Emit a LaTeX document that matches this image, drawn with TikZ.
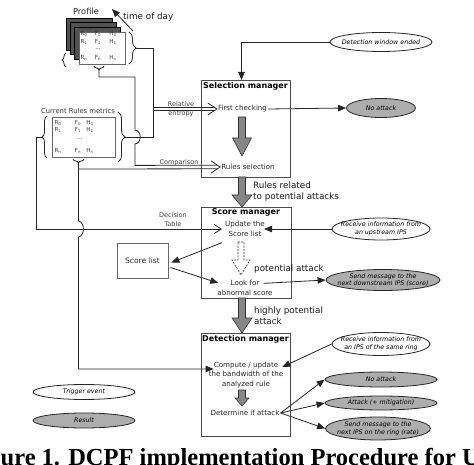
\documentclass[tikz,border=0pt]{standalone}
\usepackage{fontspec}
\setmainfont{DejaVu Sans}
\newfontfamily\capfont{Liberation Serif}
\usetikzlibrary{arrows.meta,decorations.pathreplacing,shapes.geometric,calc}
\newcommand\blockarr[7]{\draw[#7] ({#1-#5},#2) -- ({#1+#5},#2) -- ({#1+#5},#3) -- ({#1+#6},#3) -- (#1,#4) -- ({#1-#6},#3) -- ({#1-#5},#3) -- cycle;}
\begin{document}
\begin{tikzpicture}[x=1pt,y=-1pt,
  line/.style={line width=0.8pt, draw=black!85},
  conn/.style={line, -{Triangle[length=8pt,width=6.5pt]}},
  openarr/.style={line, -{Straight Barb[length=7pt,width=9pt]}},
  mgr/.style={draw=black!70, line width=1pt, inner sep=0, minimum width=89pt, anchor=north west},
  ttl/.style={font=\fontsize{8}{9}\selectfont\bfseries, inner sep=0},
  itxt/.style={font=\fontsize{7.1}{9.4}\selectfont, align=center, inner sep=1pt, text=black!85},
  side/.style={font=\fontsize{8.8}{11}\selectfont, align=left, inner sep=0, anchor=west, text=black!90},
  small/.style={font=\fontsize{6.5}{8.5}\selectfont, align=center, inner sep=0, text=black!75},
  ell/.style={ellipse, draw=black!85, line width=0.8pt, inner sep=0, fill=white},
  res/.style={ell, fill=black!32},
  etx/.style={font=\fontsize{6.3}{7.6}\selectfont\itshape, align=center, inner sep=0},
  brc/.style={line, decorate, decoration={brace, amplitude=#1}},
  big/.style={fill=black!47, draw=black!80, line width=0.6pt},
  mtx/.style={font=\fontsize{5.6}{6}\selectfont, inner sep=0, text=black!80}]
\useasboundingbox (0,0) rectangle (474,465);
\clip (0,0) rectangle (474,465);
\fill[white] (0,0) rectangle (474,465);

% ---- Profile stack
\draw[fill=black!68, draw=black, line width=0.6pt] (66,18) rectangle (112,50);
\draw[fill=black!68, draw=black, line width=0.6pt] (70,22) rectangle (116,54);
\draw[fill=black!68, draw=black, line width=0.6pt] (74,27) rectangle (120,59);
\draw[fill=white, draw=black!60, line width=0.7pt] (79,32) rectangle (125,64);
\node[font=\fontsize{8.3}{9}\selectfont, inner sep=0, text=black!85] (proftxt) at (86,11) {Profile};
\node[side] (tod) at (123,17) {time of day};
\foreach \r/\y in {0/34,1/42,n/58}{
  \node[mtx] at (84,\y) {R\textsubscript{\r}};
  \node[mtx] at (98,\y) {F\textsubscript{\r}};
  \node[mtx] at (113,\y) {H\textsubscript{\r}};}
\node[mtx] at (98,49) {...};
\draw[brc=7pt] (129,32) -- (129,64);
\draw[brc=4pt] (66,67) -- (66,53);
\draw[brc=4pt] (104,66) -- (94,66);
\coordinate (pbR) at (136,48);
\coordinate (pbB) at (99,70);
\coordinate (todend) at (112,9);
\draw[conn] (133,31) -- (todend);

% ---- Current rules metrics
\node[font=\fontsize{6.8}{8}\selectfont, inner sep=0, text=black!80] (crmtxt) at (78,111) {Current Rules metrics};
\draw[draw=black!60, line width=0.8pt] (52,117) rectangle (115,157);
\foreach \r/\y in {0/123,1/129.5,n/151}{
  \node[mtx] at (58,\y) {R\textsubscript{\r}};
  \node[mtx] at (78,\y) {F\textsubscript{\r}};
  \node[mtx] at (90,\y) {H\textsubscript{\r}};}
\node[mtx] at (80,139) {...};
\draw[brc=5pt] (47,158) -- (47,116);
\draw[brc=7pt] (118,112) -- (118,162);
\draw[brc=4pt] (84,159) -- (73,159);
\coordinate (cbL) at (42,137);
\coordinate (cbR) at (125,137);
\coordinate (cbB) at (78.5,163);

% ---- Manager boxes
\node[mgr, minimum height=97pt] (sel) at (201,80) {};
\node[ttl] (selT) at (245.5,86.5) {Selection manager};
\node[itxt] (first) at (242.5,109) {First checking};
\node[itxt] (rsel) at (248,167) {Rules selection};

\node[mgr, minimum width=90pt, minimum height=91pt] (score) at (201,207) {};
\node[ttl] (scT) at (246,212.5) {Score manager};
\node[itxt] (upd) at (245,229) {Update the\\Score list};
\node[itxt] (look) at (245,288) {Look for\\abnormal score};

\node[mgr, minimum height=103pt] (det) at (201,333) {};
\node[ttl] (detT) at (245.5,339) {Detection manager};
\node[itxt] (comp) at (246,375) {Compute / update\\the bandwidth of the\\analyzed rule};
\node[itxt] (determ) at (245,413) {Determine if attack};

\node[draw=black!60, line width=0.8pt, minimum width=51pt, minimum height=35pt, itxt, font=\fontsize{7.6}{9}\selectfont] (slist) at (142.5,260.5) {Score list};

% ---- Ellipses
\node[ell, minimum width=102pt, minimum height=19pt, label={[etx]center:Detection window ended}] (dwe) at (381,42) {};
\node[res, minimum width=69pt, minimum height=19pt, label={[etx]center:No attack}] (noatt1) at (381,108) {};
\node[ell, minimum width=98pt, minimum height=22pt, label={[etx]center:Receive information from\\an upstream IPS}] (recUp) at (381,229) {};
\node[res, minimum width=114pt, minimum height=21pt, label={[etx]center:Send message to the\\next downstream IPS (score)}] (send1) at (383,280) {};
\node[ell, minimum width=98pt, minimum height=23pt, label={[etx]center:Receive information from\\an IPS of the same ring}] (recRing) at (381,344) {};
\node[res, minimum width=112pt, minimum height=15pt, label={[etx]center:No attack}] (noatt2) at (381,379.5) {};
\node[res, minimum width=112pt, minimum height=14pt, label={[etx]center:Attack (+ mitigation)}] (attack) at (381,403) {};
\node[res, minimum width=105pt, minimum height=23pt, label={[etx]center:Send message to the\\next IPS on the ring (rate)}] (send2) at (378,428.5) {};
\node[ell, minimum width=102pt, minimum height=15pt, label={[etx]center:Trigger event}] (trig) at (84,392) {};
\node[res, minimum width=102pt, minimum height=15pt, label={[etx]center:Result}] (result) at (84,420.5) {};

% ---- Block arrows
\blockarr{242}{117}{138}{156}{3.5}{9.5}{big}
\blockarr{242}{177}{195}{207}{3.5}{10}{big}
\blockarr{241}{242}{260}{275}{3}{9}{draw=black!75, line width=0.7pt, dashed, dash pattern=on 2pt off 1.2pt, fill=white}
\blockarr{242}{298}{318}{333}{3.5}{10}{big}
\blockarr{242}{390}{398}{406}{3.5}{7}{big}

% ---- Side labels
\node[side] (lab1) at (253,191.5) {Rules related\\to potential attacks};
\node[side] (lab2) at (254,269) {potential attack};
\node[side] (lab3) at (254,315.5) {highly potential\\attack};
\node[small] (relent) at (181,109) {Relative\\entropy};
\node[small] (compar) at (179,163) {Comparison};
\node[small] (dect) at (173,219.5) {Decision\\Table};

% ---- Relative entropy (double arrow)
\draw[line] (pbR) -- (153,48) -- (153,137) -- (cbR);
\draw[line] (153,107.3) -- ($(first.west)+(-3,-1.7)$);
\draw[line] (153,110.7) -- ($(first.west)+(-3,1.7)$);
\draw[line] ($(first.west)+(-9,-6)$) -- (first.west) -- ($(first.west)+(-9,6)$);

% ---- Comparison (double arrow)
\draw[line] (pbB) -- (99,77) -- (135,77) -- (135,130) .. controls (142,131) and (142,143) .. (135,144) -- (135,165.4) -- ($(rsel.west)+(-3,-1.8)$);
\draw[line] (cbB) -- (78.5,169) -- ($(rsel.west)+(-3,1.8)$);
\draw[line] ($(rsel.west)+(-9,-6)$) -- (rsel.west) -- ($(rsel.west)+(-9,6)$);

% ---- Decision table
\coordinate (j1) at (36,137);
\coordinate (j2) at (36,229);
\draw[openarr] (cbL) -- (j1) -- (j2) -- ($(upd.west)+(-2,0)$);

% ---- To Detection manager
\coordinate (j3) at (78.5,369);
\draw[conn] (78.5,169) -- (78.5,221) .. controls (85,222) and (85,236) .. (78.5,237) -- (j3) -- ($(comp.west)+(6,-6)$);

% ---- Connectors
\draw[conn] (dwe.west) -| ($(sel.north)+(-4.5,0)$);
\draw[conn] (first.east) -- (noatt1.west);
\draw[conn] (recUp.west) -- ($(upd.east)+(-2,0)$);
\draw[conn] ($(upd.south west)+(-2,5)$) -- ($(slist.east)+(3,2)$);
\draw[conn] ($(slist.east)+(2,7)$) -- ($(look.west)+(2,-5)$);
\draw[conn] ($(look.north east)+(-10,4)$) -- (send1.west);
\draw[conn] (recRing.west) -- ($(comp.north east)+(-2,6)$);
\draw[conn] (determ.east) -- (noatt2.west);
\draw[conn] (determ.east) -- (attack.west);
\draw[conn] (determ.east) -- (send2.west);

% ---- Caption (cropped)
\node[font={\capfont\bfseries\fontsize{24.5}{28}\selectfont}, anchor=base west, inner sep=0] (cap) at (0.5,465.5) {ure 1. DCPF implementation Procedure for U};
\end{tikzpicture}
\end{document}
